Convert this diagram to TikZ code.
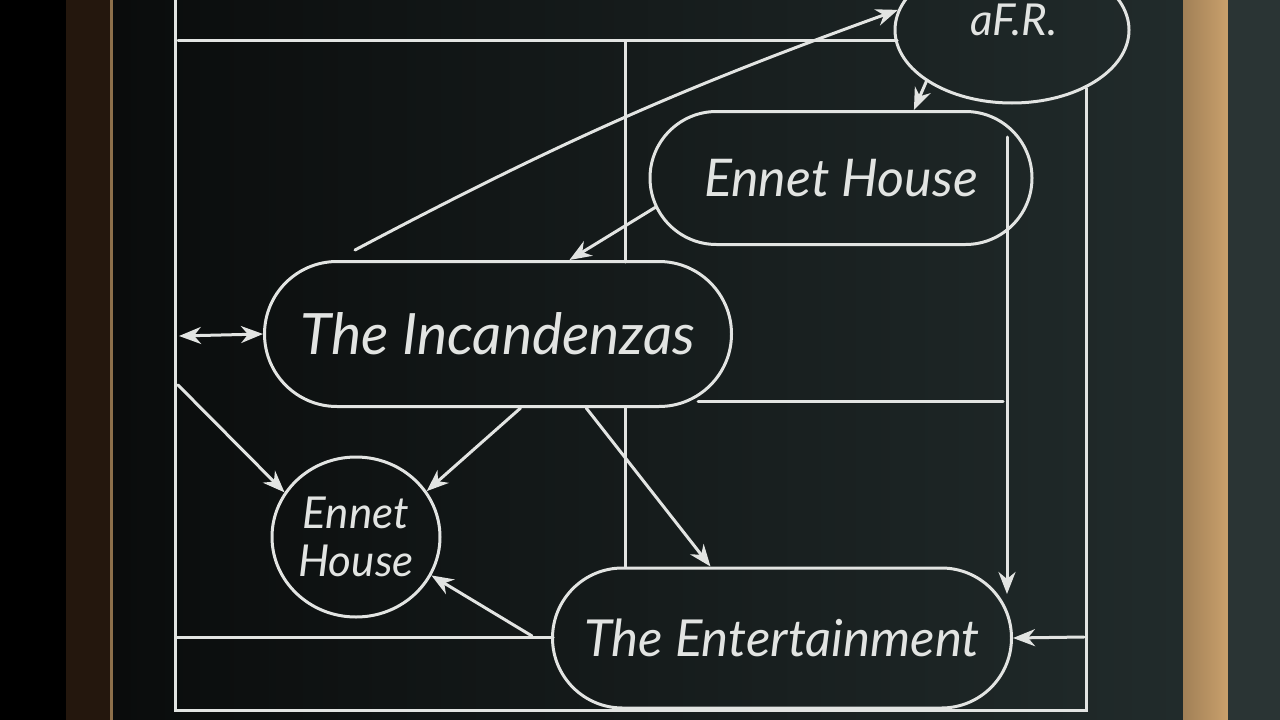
\documentclass[tikz,border=0pt]{standalone}
\usepackage{fontspec}
\setmainfont{Lato}
\usetikzlibrary{arrows.meta, shapes.geometric, shapes.misc}

\definecolor{chalk}{HTML}{E2E4E2}
\definecolor{boardleft}{HTML}{0A0C0C}
\definecolor{boardright}{HTML}{212B2B}
\definecolor{framedark}{HTML}{24170D}
\definecolor{framewood}{HTML}{C9A06C}
\definecolor{wallright}{HTML}{2A3434}

\tikzset{
	chalkline/.style={draw=chalk, line width=3pt, line cap=round},
	chalktip/.tip={Stealth[length=22pt, width=17pt, inset=7pt]},
	chalkarrow/.style={chalkline, -chalktip},
	chalktext/.style={text=chalk, font=\itshape\fontsize{#1}{#1}\selectfont},
	pill/.style={chalkline, rounded rectangle, inner sep=0pt, chalktext=52}
}

\begin{document}
\begin{tikzpicture}[x=1pt, y=-1pt]
	\useasboundingbox (0,0) rectangle (1280,720);

	% board and frame
	\fill[black] (0,0) rectangle (66,720);
	\fill[framedark] (66,0) rectangle (112,720);
	\fill[framewood!70!black] (110,0) rectangle (113,720);
	\shade[left color=boardleft, right color=boardright] (113,0) rectangle (1183,720);
	\shade[left color=framewood!80!black, right color=framewood] (1183,0) rectangle (1228,720);
	\fill[wallright] (1228,0) rectangle (1280,720);

	% nodes
	\node[pill, minimum width=382, minimum height=133] (ennet) at (841,178)
		{Ennet House};
	\node[pill, minimum width=467, minimum height=145, chalktext=57] (inc) at (498,334)
		{The Incandenzas};
	\node[pill, minimum width=459, minimum height=140, chalktext=51] (ent) at (782,638)
		{The Entertainment};
	\node[chalkline, ellipse, minimum width=168, minimum height=160, inner sep=0pt,
		chalktext=44, align=center] (eh) at (356,537)
		{Ennet\\[4pt]House};
	\node[chalkline, ellipse, minimum width=234, minimum height=146] (afr) at (1012,30) {};
	\node[chalktext=44, inner sep=1pt] (afrtext) at (1014,20) {aF.R.};

	% ruled lines
	\draw[chalkline] (175,0) -- (175,710) -- (1086,710) -- (1086,88);
	\draw[chalkline] (178,40) -- (897,40);
	\draw[chalkline] (625,42) -- (625,262);
	\draw[chalkline] (625,407) -- (625,567);
	\draw[chalkline] (698,401) -- (1003,401);
	\draw[chalkline] (177,637) -- (553,637);

	\coordinate (curvestart) at (355,250);
	\coordinate (lefttip)    at (179,336);
	\coordinate (leftfoot)   at (178,385);
	\coordinate (entfoot)    at (532,636);
	\coordinate (drop)       at (1007,137);
	\coordinate (droptip)    at (1007,594);
	\coordinate (rightfoot)  at (1084,637);

	% connectors
	\draw[chalkarrow] (curvestart) to[bend left=4] (afr.170);
	\draw[chalkarrow] (ennet.189) -- (inc.46);
	\draw[chalkarrow] (afr.211) -- (ennet.43);
	\draw[chalkline, chalktip-chalktip] (lefttip) -- (inc.west);
	\draw[chalkarrow] (leftfoot) -- (eh.148);
	\draw[chalkarrow] (inc.-73) -- (eh.33);
	\draw[chalkarrow] (inc.-40) -- (ent.135);
	\draw[chalkarrow] (entfoot) -- (eh.-27);
	\draw[chalkarrow] (drop) -- (droptip);
	\draw[chalkarrow] (rightfoot) -- (ent.east);
\end{tikzpicture}
\end{document}
